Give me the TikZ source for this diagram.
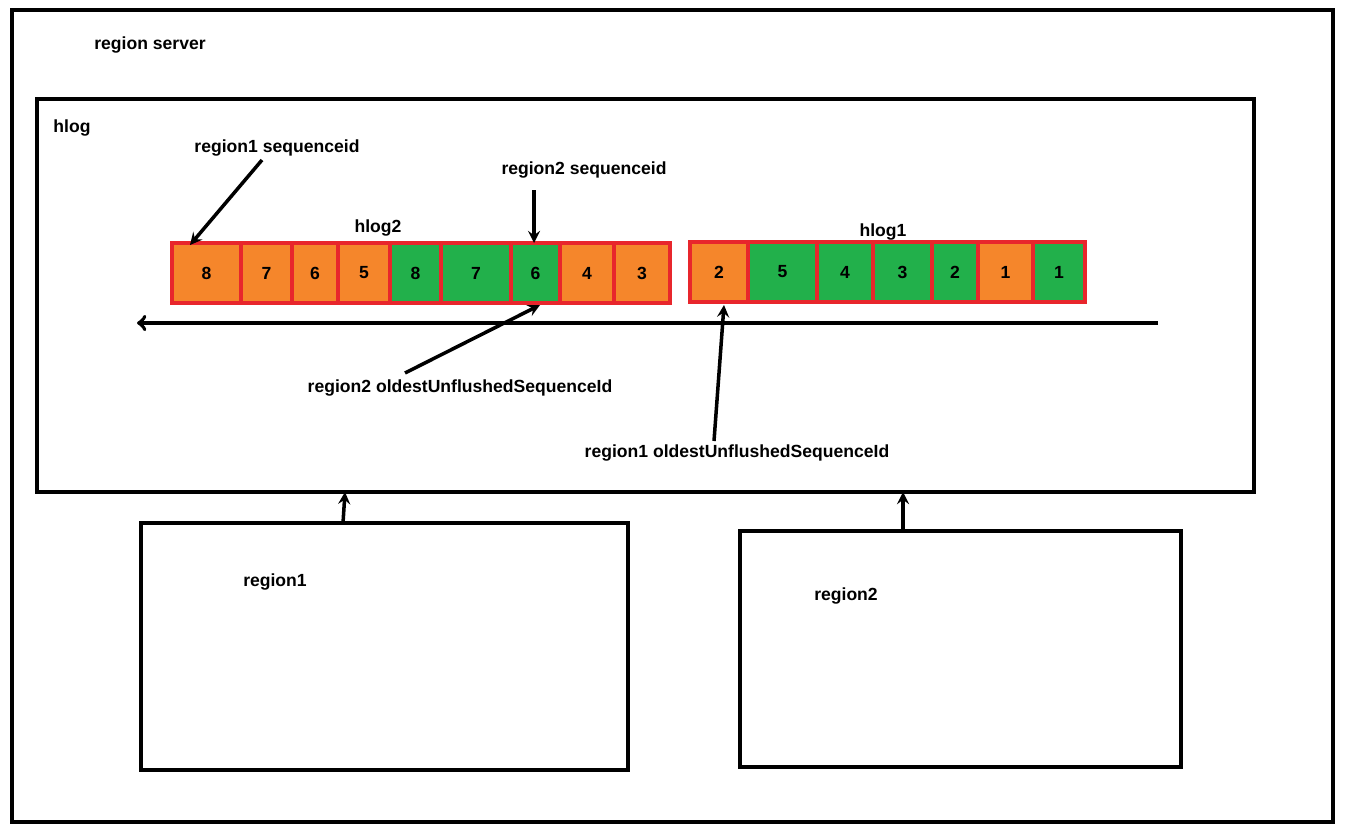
\documentclass[tikz,border=0pt]{standalone}
\usepackage{fontspec}
\setmainfont{Liberation Sans}
\usetikzlibrary{positioning,arrows}
\definecolor{cellorange}{RGB}{245,134,43}
\definecolor{cellgreen}{RGB}{34,176,75}
\definecolor{cellred}{RGB}{232,38,44}
\begin{document}
\begin{tikzpicture}[x=0.02cm,y=-0.02cm,
    box/.style={draw, line width=2.2pt},
    lbl/.style={font=\bfseries},
    cell/.style={draw=cellred, line width=2pt, inner sep=0pt, font=\bfseries},
    ptr/.style={-stealth, line width=2pt}]
  \useasboundingbox (0,0) rectangle (1351,832);
  % boxes
  \draw[box] (12,10) rectangle (1333,822);
  \draw[box] (37,99) rectangle (1254,492);
  \draw[box] (141,523) rectangle (628,770);
  \draw[box] (740,531) rectangle (1181,767);
  \node[lbl] (rs) at (150,45) {region server};
  \node[lbl] (hl) at (72,128) {hlog};
  \node[lbl] (r1) at (275,582) {region1};
  \node[lbl] (r2) at (846,596) {region2};
  % hlog2 cells
  \foreach \n/\a/\b/\c/\t in {a/172/241/cellorange/8, b/241/292/cellorange/7,
      c/292/338/cellorange/6, d/338/390/cellorange/5, e/390/441/cellgreen/8,
      f/441/511/cellgreen/7, g/511/560/cellgreen/6, h/560/614/cellorange/4,
      i/614/670/cellorange/3}
    \filldraw[cell, fill=\c] (\a,243) rectangle node (\n) {\t} (\b,303);
  % hlog1 cells
  \foreach \n/\a/\b/\c/\t in {p/690/748/cellorange/2, q/748/817/cellgreen/5,
      r/817/873/cellgreen/4, s/873/932/cellgreen/3, t/932/978/cellgreen/2,
      u/978/1033/cellorange/1, v/1033/1085/cellgreen/1}
    \filldraw[cell, fill=\c] (\a,242) rectangle node (\n) {\t} (\b,302);
  \node[lbl] (h2) at (378,228) {hlog2};
  \node[lbl] (h1) at (883,232) {hlog1};
  % time axis
  \coordinate (axr) at (1158,323);
  \coordinate (axl) at (137,323);
  \draw[-to, line width=2.2pt] (axr) -- (axl);
  % pointers
  \node[lbl] (s1) at (277,148) {region1 sequenceid};
  \node[lbl] (s2) at (584,170) {region2 sequenceid};
  \node[lbl] (o2) at (460,388) {region2 oldestUnflushedSequenceId};
  \node[lbl] (o1) at (737,453) {region1 oldestUnflushedSequenceId};
  \draw[ptr] (262,160) -- (190,245);
  \draw[ptr] (534,190) -- (534,243);
  \draw[ptr] (405,373) -- (540,305);
  \draw[ptr] (714,441) -- (724,305);
  \draw[ptr] (343,523) -- (345,492);
  \draw[ptr] (903,531) -- (903,492);
\end{tikzpicture}
\end{document}
